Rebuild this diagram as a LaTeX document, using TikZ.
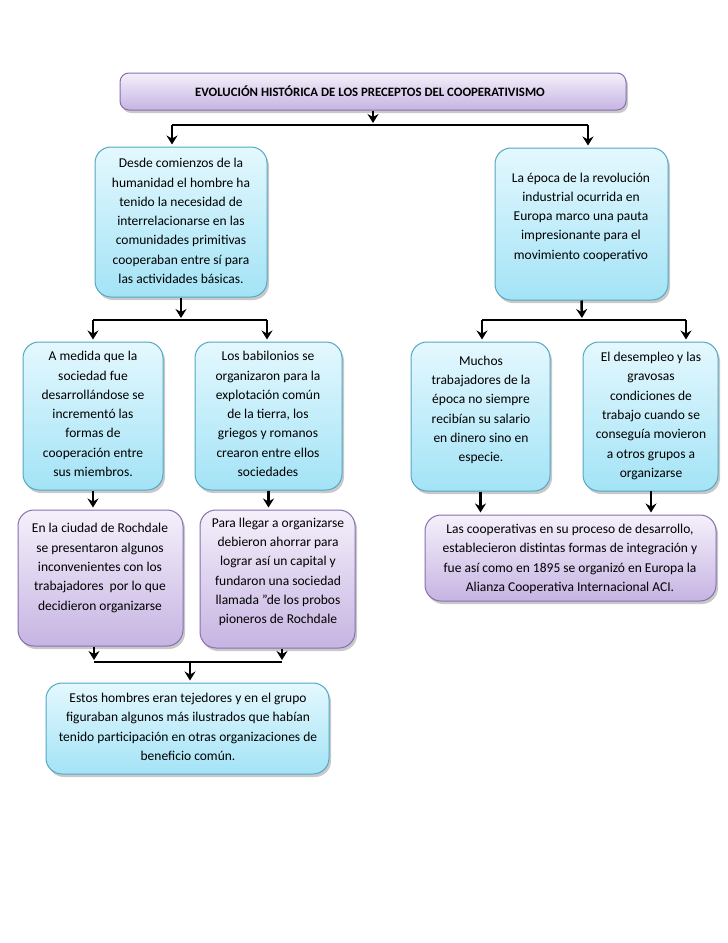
\documentclass[tikz,border=0pt]{standalone}
\usepackage{fontspec}
\setmainfont{Carlito}
\usetikzlibrary{arrows.meta,shadows}
\definecolor{bTop}{HTML}{E4F8FE}
\definecolor{bBot}{HTML}{A3E3F6}
\definecolor{bLine}{HTML}{52A8C2}
\definecolor{pTop}{HTML}{F5F0FB}
\definecolor{pBot}{HTML}{C6B4E2}
\definecolor{pLine}{HTML}{8570AE}
\tikzset{
  boxbase/.style={rounded corners=16pt, line width=1pt, inner sep=0pt,
    drop shadow={shadow xshift=2pt, shadow yshift=-3pt, opacity=0.35, fill=black!60}},
  bluebox/.style={boxbase, draw=bLine, top color=bTop, bottom color=bBot},
  purplebox/.style={boxbase, draw=pLine, top color=pTop, bottom color=pBot},
  txt/.style={align=center, font=\fontsize{13.5}{19.3}\selectfont, inner sep=0pt},
  conn/.style={line width=2.5pt, black},
  arr/.style={conn, -{Stealth[length=9pt,width=11pt,inset=3pt]}, shorten >=2pt},
}
\newcommand{\mkbox}[6]{% style, name, x1,y1,x2,y2
  \node[#1, minimum width={(#5)-(#3)}, minimum height={(#6)-(#4)}] (#2)
    at ({((#3)+(#5))/2},{((#4)+(#6))/2}) {};}
\begin{document}
\begin{tikzpicture}[x=1pt,y=-1pt]
\useasboundingbox (0,0) rectangle (728,943);
\fill[white] (0,0) rectangle (728,943);

% boxes
\mkbox{purplebox,rounded corners=9pt}{title}{120}{73}{626}{110}
\mkbox{bluebox}{b1}{95}{147}{267}{297}
\mkbox{bluebox}{b2}{495}{148}{668}{300}
\mkbox{bluebox}{ba}{23}{342}{163}{490}
\mkbox{bluebox}{bb}{195}{342}{342}{490}
\mkbox{bluebox}{bc}{411}{342}{550}{491}
\mkbox{bluebox}{bd}{583}{342}{718}{491}
\mkbox{purplebox}{be}{18}{510}{183}{646}
\mkbox{purplebox}{bf}{200}{510}{355}{648}
\mkbox{purplebox}{bg}{425}{515}{716}{601}
\mkbox{bluebox}{bh}{46}{683}{329}{774}

% texts
\node[txt, font=\bfseries\fontsize{12.8}{14}\selectfont] (titleT) at (370,91)
  {EVOLUCIÓN HISTÓRICA DE LOS PRECEPTOS DEL COOPERATIVISMO};
\node[txt] (b1T) at (181,221) {Desde comienzos de la\\humanidad el hombre ha\\tenido la necesidad de\\interrelacionarse en las\\comunidades primitivas\\cooperaban entre sí para\\las actividades básicas.};
\node[txt] (b2T) at (581,217) {La época de la revolución\\industrial ocurrida en\\Europa marco una pauta\\impresionante para el\\movimiento cooperativo};
\node[txt] (baT) at (93,414) {A medida que la\\sociedad fue\\desarrollándose se\\incrementó las\\formas de\\cooperación entre\\sus miembros.};
\node[txt] (bbT) at (268,414) {Los babilonios se\\organizaron para la\\explotación común\\de la tierra, los\\griegos y romanos\\crearon entre ellos\\sociedades};
\node[txt] (bcT) at (481,410) {Muchos\\trabajadores de la\\época no siempre\\recibían su salario\\en dinero sino en\\especie.};
\node[txt] (bdT) at (651,416) {El desempleo y las\\gravosas\\condiciones de\\trabajo cuando se\\conseguía movieron\\a otros grupos a\\organizarse};
\node[txt] (beT) at (100,568) {En la ciudad de Rochdale\\se presentaron algunos\\inconvenientes con los\\trabajadores\ \ por lo que\\decidieron organizarse};
\node[txt] (bfT) at (278,572) {Para llegar a organizarse\\debieron ahorrar para\\lograr así un capital y\\fundaron una sociedad\\llamada ”de los probos\\pioneros de Rochdale};
\node[txt] (bgT) at (570,559) {Las cooperativas en su proceso de desarrollo,\\establecieron distintas formas de integración y\\fue así como en 1895 se organizó en Europa la\\Alianza Cooperativa Internacional ACI.};
\node[txt] (bhT) at (188,727) {Estos hombres eran tejedores y en el grupo\\figuraban algunos más ilustrados que habían\\tenido participación en otras organizaciones de\\beneficio común.};

% junction coordinates
\coordinate (j0) at (373,125);
\coordinate (j0L) at (172,125);
\coordinate (j0R) at (588,125);
\coordinate (j1) at (181,320);
\coordinate (j1L) at (93,320);
\coordinate (j1R) at (267,320);
\coordinate (j2) at (582,320);
\coordinate (j2L) at (482,320);
\coordinate (j2R) at (686,320);
\coordinate (j3L) at (94,662);
\coordinate (j3R) at (282,662);
\coordinate (j3) at (190,662);

% connectors
\draw[arr] (title.south) -- (j0);
\draw[conn] (j0L) -- (j0R);
\draw[arr] (j0L) -- (j0L |- b1.north);
\draw[arr] (j0R) -- (j0R |- b2.north);

\draw[arr] (b1.south) -- (j1);
\draw[conn] (j1L) -- (j1R);
\draw[arr] (j1L) -- (j1L |- ba.north);
\draw[arr] (j1R) -- (j1R |- bb.north);

\draw[arr] (b2.south) -- (j2);
\draw[conn] (j2L) -- (j2R);
\draw[arr] (j2L) -- (j2L |- bc.north);
\draw[arr] (j2R) -- (j2R |- bd.north);

\draw[arr] (ba.south) -- (be.north -| ba.south);
\draw[arr] (bb.south) -- (bf.north -| bb.south);
\draw[arr] (bc.south) -- (bg.north -| bc.south);
\draw[arr] (651,491) -- (bg.north -| 651,491);

\draw[arr] (be.south -| j3L) -- (j3L);
\draw[arr] (bf.south -| j3R) -- (j3R);
\draw[conn] (j3L) -- (j3R);
\draw[arr] (j3) -- (j3 |- bh.north);
\end{tikzpicture}
\end{document}
